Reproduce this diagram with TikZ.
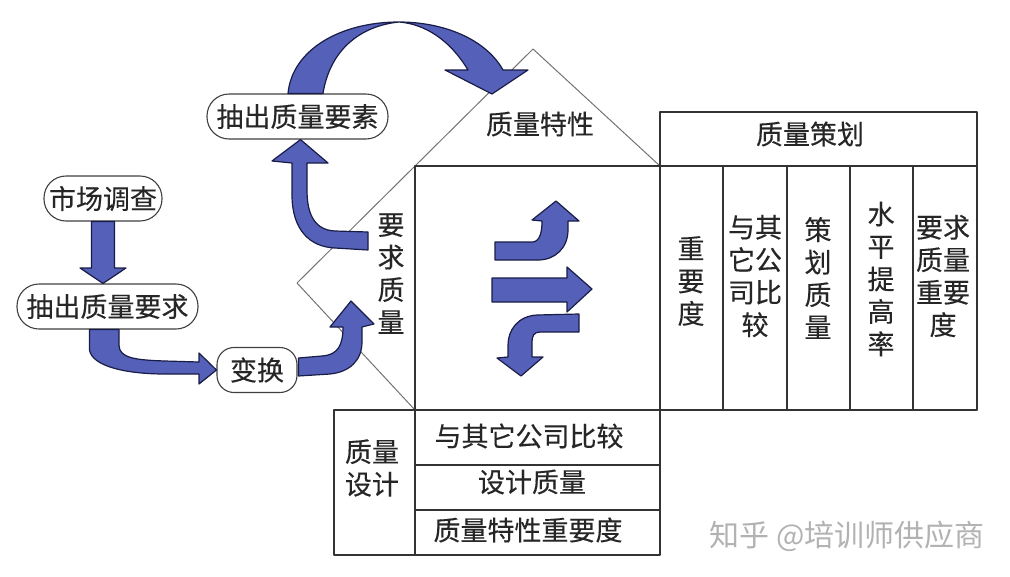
\documentclass[tikz,border=0pt]{standalone}
\usepackage{fontspec}
\newfontfamily\cjk[FakeBold=0.25]{Noto Sans CJK SC}
\newfontfamily\cjkmark{Noto Sans CJK SC}
\usetikzlibrary{calc}
\definecolor{flowblue}{RGB}{85,96,184}
\definecolor{flowedge}{RGB}{25,28,70}

\begin{document}
\begin{tikzpicture}[x=1pt,y=-1pt,line join=round]
        \tikzstyle{every node}=[font=\cjk\fontsize{27}{32.5}\selectfont,inner sep=0pt,align=center,text=black!85]
        \tikzstyle{flow}=[draw=flowedge,fill=flowblue,line width=1.2pt]
        \tikzstyle{pill}=[draw=black!75,fill=white,line width=1.1pt,rounded corners=22pt,minimum height=45pt]
        \tikzstyle{roof}=[draw=black!55,line width=1pt]
        \tikzstyle{grid}=[draw=black!80,line width=1.2pt]

        \useasboundingbox (0,0) rectangle (1010,576);

        \node [pill,minimum width=118pt] (mkt) at (103,198.5) {市场调查};
        \node [pill,minimum width=181pt] (req) at (107.5,306.5) {抽出质量要求};
        \node [pill,minimum width=80pt,rounded corners=17pt] (chg) at (257,370) {变换};
        \node [pill,minimum width=181pt] (elem) at (297.5,116.5) {抽出质量要素};

        \draw [roof] (297,283) -- (533,49) -- (660,166); %roof
        \draw [roof] (297,283) -- (415,410);

        \draw [grid] (415,166) rectangle (660,410);
        \draw [grid] (660,112) rectangle (977,410);
        \draw [grid] (660,166) -- (977,166);
        \foreach \x in {723,787,850,913}
            \draw [grid] (\x,166) -- (\x,410);
        \draw [grid] (334,410) rectangle (660,555);
        \draw [grid] (415,410) -- (415,555);
        \draw [grid] (415,465) -- (660,465);
        \draw [grid] (415,510) -- (660,510);

        \node (sqtop) at (540,124) {质量特性};
        \node (qplan) at (810,134) {质量策划};
        \node (qreq) at (391,273.5) {要\\求\\质\\量};
        \node (cimp) at (691,281) {重\\要\\度};
        \node (ccmp) at (755,276) {与其\\它公\\司比\\较};
        \node (cpln) at (818,278) {策\\划\\质\\量};
        \node (crat) at (881,279) {水\\平\\提\\高\\率};
        \node (cwgt) at (943,276) {要求\\质量\\重要\\度};
        \node (qdes) at (372,468) {质量\\设计};
        \node (rcmp) at (529,436) {与其它公司比较};
        \node (rdes) at (532,482) {设计质量};
        \node (rimp) at (528,530) {质量特性重要度};
        \node [text=black!30,font=\cjkmark\fontsize{30}{32}\selectfont] (mark) at (847,536) {知乎 @培训师供应商};

        \coordinate (qin) at (351,301);
        \coordinate (qout) at (368,241);
        \coordinate (toptip) at (492,94);

        \draw [flow] ($(mkt.south)+(-11.5,0)$) -- (91.5,268) -- (80,268) -- (mkt.south |- req.north) %市场
            -- (126,268) -- (114.5,268) -- ($(mkt.south)+(11.5,0)$) -- cycle;
        \draw [flow] ($(req.south)+(-18,0)$) -- (89.5,350) .. controls (92,366) and (125,374) .. (165,374)
            -- (199,374) -- (199,384) -- (chg.west) -- (199,353) -- (199,362) -- (165,361)
            .. controls (135,360) and (119,358) .. (119,345) -- ($(req.south)+(11.5,0)$) -- cycle;
        \draw [flow] ($(chg.east)+(1,-12)$) -- (322,356) .. controls (338,355) and (343,345) .. (343,327)
            -- (330,327) -- (qin) -- (374,324) -- (362,327) -- (362,342)
            .. controls (362,360) and (350,372) .. (330,374) -- ($(chg.east)+(1,6)$) -- cycle;
        \draw [flow] ($(qout)+(0,-9)$) -- (335,231) .. controls (315,230) and (307,215) .. (307,190) -- (307,163)
            -- (328,163) -- ($(elem.south)+(3,0)$) -- (272,161) -- (292,163) -- (292,195)
            .. controls (292,230) and (310,247) .. (335,248) -- ($(qout)+(0,9)$) -- cycle;
        \draw [flow] ($(elem.north)+(-9.5,0)$) .. controls (292,50) and (340,22) .. (399,22)
            .. controls (442,22) and (485,38) .. (503,70) -- (528,70) -- (toptip) -- (445,70) -- (468,70)
            .. controls (450,40) and (425,24) .. (399,22)
            .. controls (360,26) and (330,50) .. ($(elem.north)+(25.5,0)$) -- cycle;

        \draw [flow] (495,242) -- (533,242) .. controls (540,241) and (542,232) .. (542,221) -- (532,220)
            -- (556,201) -- (579,221) -- (568,221) -- (568,230)
            .. controls (568,248) and (555,260) .. (538,260) -- (495,260) -- cycle;
        \draw [flow] (492,278) -- (567,278) -- (567,267) -- (592,289) -- (567,312) -- (567,302)
            -- (492,302) -- cycle;
        \draw [flow] (579,314) -- (537,315) .. controls (518,316) and (508,330) .. (508,345) -- (508,357)
            -- (497,358) -- (521,376) -- (543,357) -- (532,357) -- (532,342)
            .. controls (532,336) and (534,332) .. (540,332) -- (579,332) -- cycle;
\end{tikzpicture}
\end{document}
